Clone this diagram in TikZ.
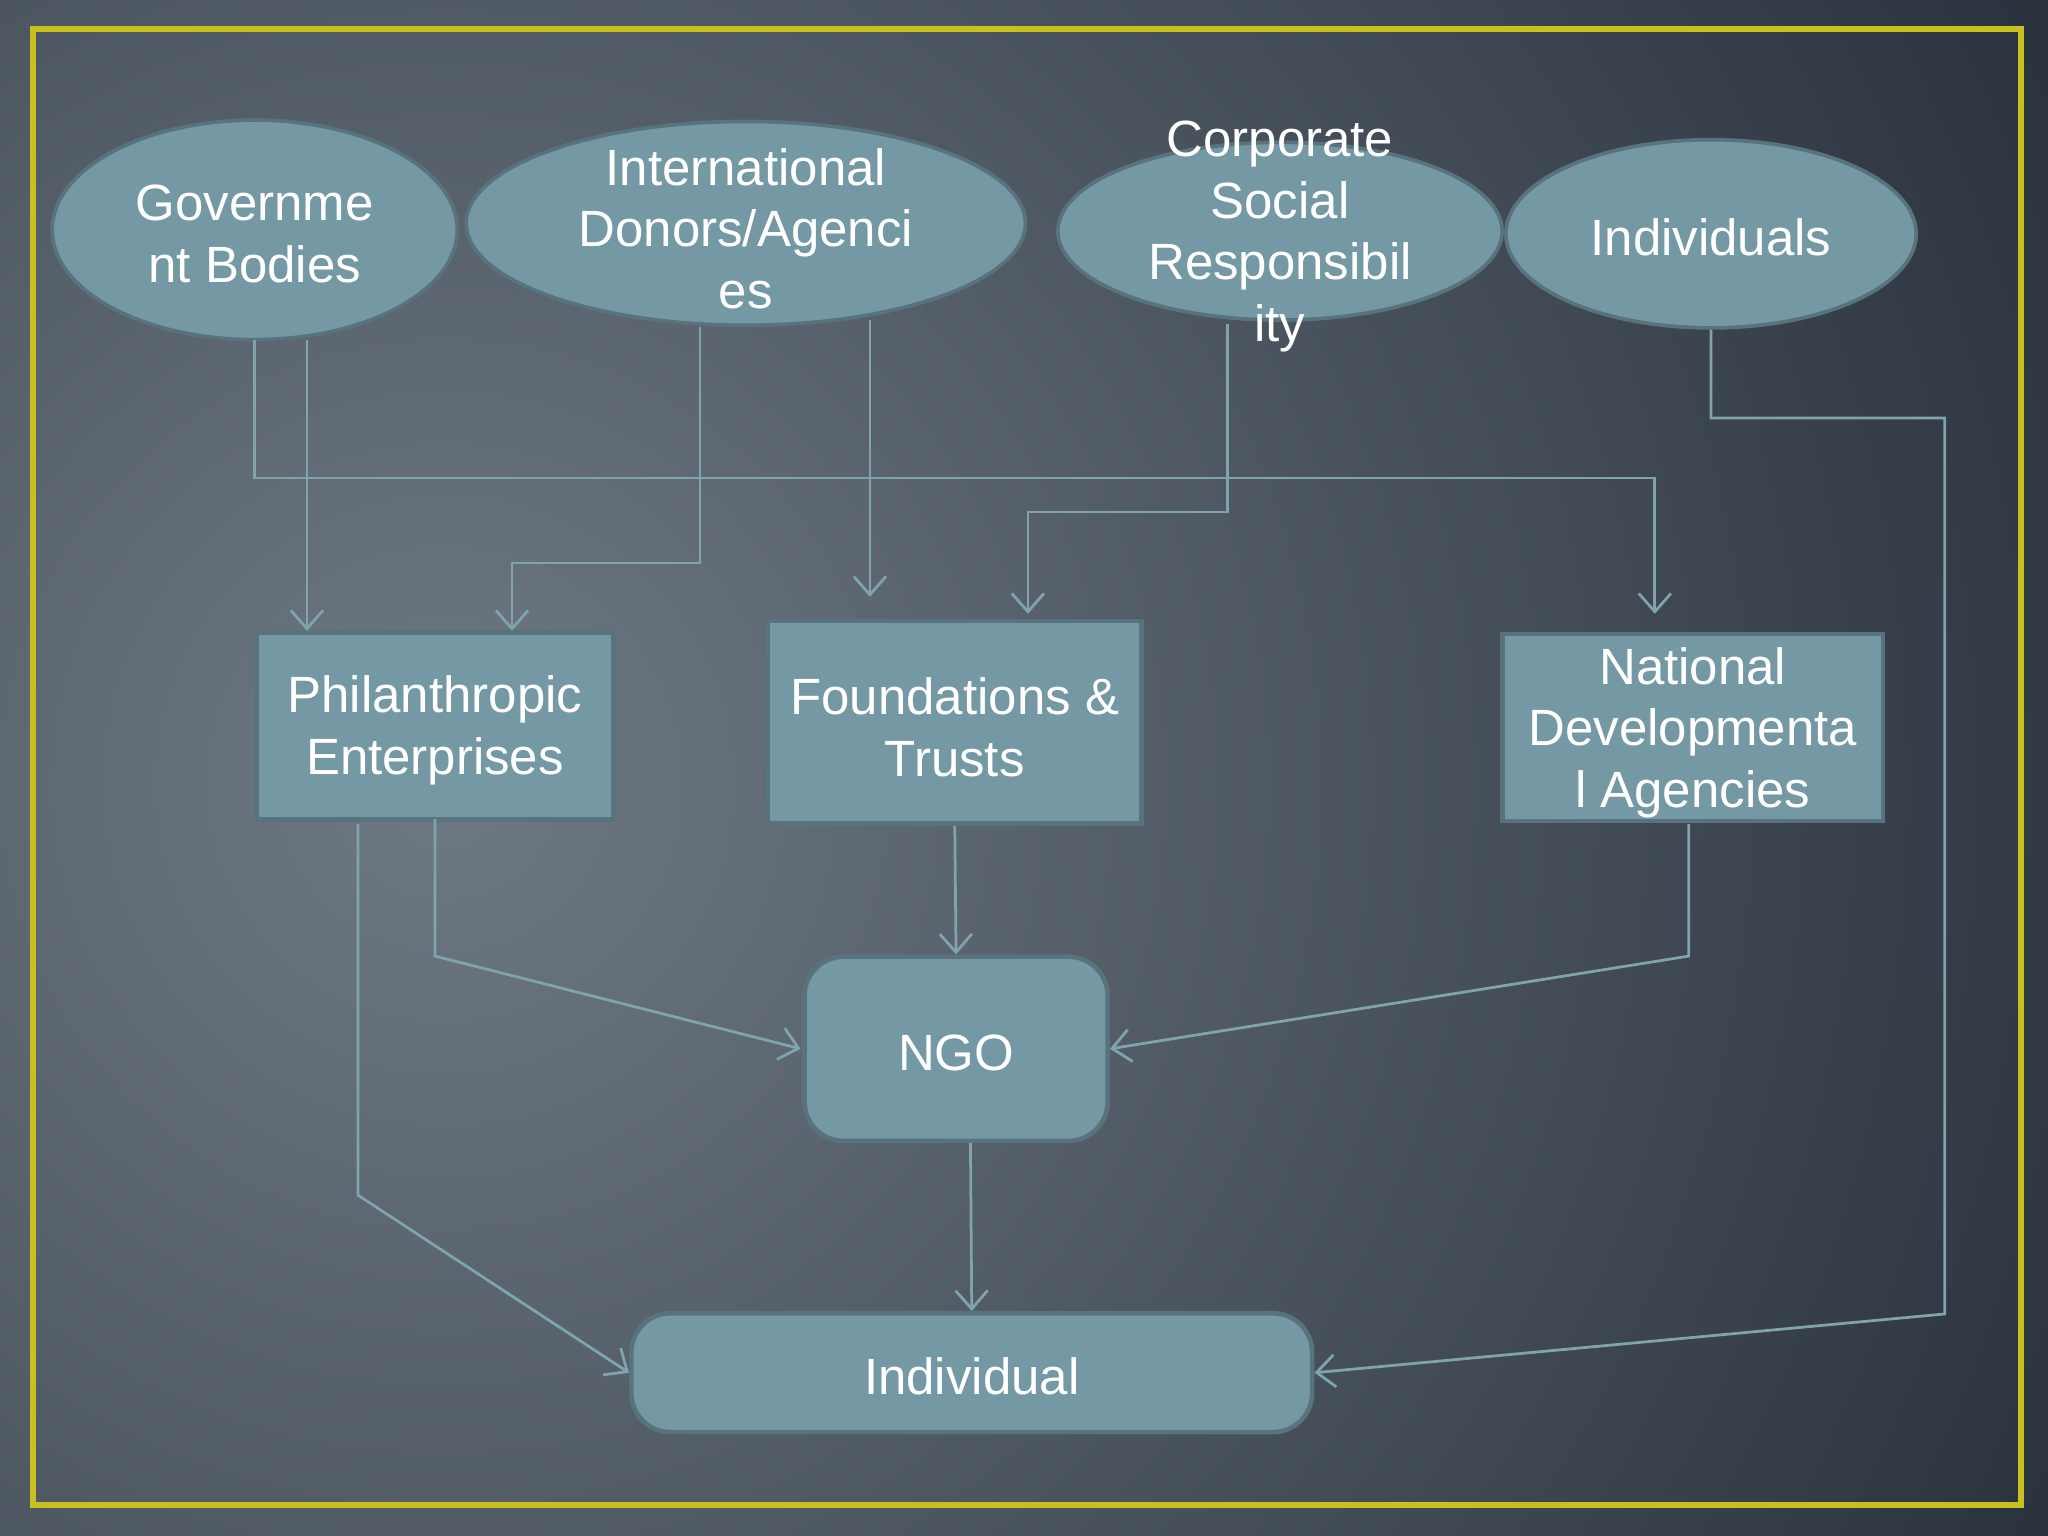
\documentclass[tikz,border=0pt]{standalone}
\usepackage{fontspec}
\setmainfont{Liberation Sans}
\usetikzlibrary{arrows.meta,shapes.geometric}
\definecolor{bgin}{HTML}{6F7984}
\definecolor{bgout}{HTML}{27303B}
\definecolor{boxf}{HTML}{7599A4}
\definecolor{boxd}{HTML}{58737D}
\definecolor{lin}{HTML}{80A4AE}
\definecolor{ylw}{HTML}{C8C020}
\tikzset{
 every node/.style={text=white,font=\fontsize{11.1}{13.4}\selectfont,align=center},
 ell/.style={ellipse,fill=boxf,draw=boxd,line width=0.8pt,inner sep=0pt},
 rbox/.style={rectangle,fill=boxf,draw=boxd,line width=1pt,inner sep=0pt},
 rrbox/.style={rbox,rounded corners=0.3cm},
 conn/.style={draw=lin,line width=0.6pt,-{Straight Barb[length=4pt,width=7pt]}},
}
\begin{document}
\begin{tikzpicture}[x=0.01cm,y=-0.01cm]
\useasboundingbox (0,0) rectangle (1568,1176);
\fill[bgout] (0,0) rectangle (1568,1176);
\begin{scope}
\clip (0,0) rectangle (1568,1176);
\shade[inner color=bgin,outer color=bgout] (340,600) circle (1400);
\end{scope}
\draw[ylw,line width=1.3pt] (25,22) rectangle (1547,1152);
% ellipses
\node[ell,minimum width=3.1cm,minimum height=1.68cm] (gov) at (195,176) {};
\node at (195,179) {Governme\\nt Bodies};
\node[ell,minimum width=4.28cm,minimum height=1.56cm] (intl) at (571,171) {};
\node at (571,175) {International\\Donors/Agenci\\es};
\node[ell,minimum width=3.4cm,minimum height=1.36cm] (csr) at (980,177) {};
\node at (980,181) {Corporate\\Social\\Responsibil\\ity};
\node[ell,minimum width=3.14cm,minimum height=1.44cm] (ind) at (1310,179) {};
\node at (1310,182) {Individuals};
% boxes
\node[rbox,minimum width=2.73cm,minimum height=1.43cm] (phil) at (333,556) {};
\node at (333,559) {Philanthropic\\Enterprises};
\node[rbox,minimum width=2.86cm,minimum height=1.55cm] (found) at (731,553) {};
\node at (731,557) {Foundations \&\\Trusts};
\node[rbox,minimum width=2.91cm,minimum height=1.43cm] (nat) at (1296,557) {};
\node at (1296,561) {National\\Developmenta\\l Agencies};
\node[rrbox,minimum width=2.32cm,minimum height=1.41cm] (ngo) at (732,803) {};
\node at (732,806) {NGO};
\node[rrbox,minimum width=5.21cm,minimum height=0.91cm] (indiv) at (744,1051) {};
\node at (744,1054) {Individual};
% connectors
\draw[conn] (195,260) -- (195,366) -- (1267,366) -- (1267,470);
\draw[conn] (235,260) -- (235,483);
\draw[conn] (536,250) -- (536,431) -- (392,431) -- (392,483);
\draw[conn] (666,245) -- (666,457);
\draw[conn] (940,248) -- (940,392) -- (787,392) -- (787,470);
\draw[conn] (ind.south) -- (1310,320) -- (1489,320) -- (1489,1006) -- (indiv.east);
\draw[conn] (333,627) -- (333,732) -- (613,803);
\draw[conn] (274,631) -- (274,915) -- (indiv.west);
\draw[conn] (found.south) -- (ngo.north);
\draw[conn] (1293,631) -- (1293,732) -- (ngo.east);
\draw[conn] (743,875) -- (indiv.north);
\end{tikzpicture}
\end{document}
